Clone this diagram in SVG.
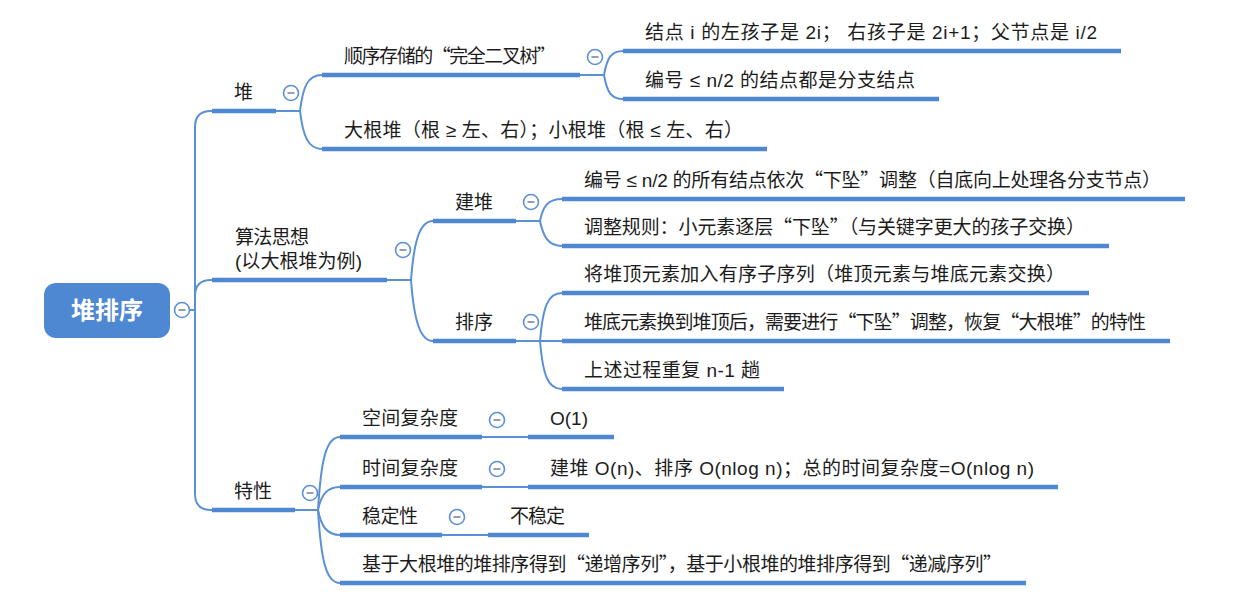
<svg xmlns="http://www.w3.org/2000/svg" width="1234" height="596" viewBox="0 0 1234 596">
<style>
  .t { font-family: "Liberation Sans", "Noto Sans CJK SC", sans-serif; font-size: 19px; fill: #1c1c1c; }
  .q { font-family: "Noto Sans CJK SC", sans-serif; }
  .root { font-family: "Noto Sans CJK SC", "Liberation Sans", sans-serif; font-size: 24px; font-weight: bold; fill: #ffffff; }
  .ul { stroke: #4f88d2; stroke-width: 4.5; fill: none; stroke-linecap: butt; }
  .cn { stroke: #5a90d6; stroke-width: 2; fill: none; }
  .btn circle { fill: #ffffff; stroke: #5a90d6; stroke-width: 1.6; }
  .btn line { stroke: #8a93ad; stroke-width: 1.8; }
</style>
<defs>
  <g id="minus" class="btn"><circle cx="0" cy="0" r="7.5"/><line x1="-3.5" y1="0" x2="3.5" y2="0"/></g>
</defs>
<rect width="1234" height="596" fill="#ffffff"/>

<g id="connectors">
  <path class="cn" d="M189.5,310 H195"/>
  <path class="cn" d="M195,310 V127 Q195,111 211,111 H212"/>
  <path class="cn" d="M195,310 V296 Q195,280 211,280 H212"/>
  <path class="cn" d="M195,310 V494 Q195,510 211,510 H212"/>
  <path class="cn" d="M276,111 H300"/>
  <path class="cn" d="M300,111 C303,86 308,75 322,75"/>
  <path class="cn" d="M300,111 C303,136 308,149 322,149"/>
  <path class="cn" d="M580,75 H604"/>
  <path class="cn" d="M604,75 C607,58 611,51 623,51"/>
  <path class="cn" d="M604,75 C607,92 611,99 623,99"/>
  <path class="cn" d="M387,280 H411"/>
  <path class="cn" d="M411,280 C414,240 420,221 433,221"/>
  <path class="cn" d="M411,280 C414,320 420,341 433,341"/>
  <path class="cn" d="M516,221 H540"/>
  <path class="cn" d="M540,221 C543,206 548,199 562,199"/>
  <path class="cn" d="M540,221 C543,236 548,246 562,246"/>
  <path class="cn" d="M516,341 H562"/>
  <path class="cn" d="M540,341 C543,306 548,293 562,293"/>
  <path class="cn" d="M540,341 C543,376 548,389 562,389"/>
  <path class="cn" d="M295,510 H318"/>
  <path class="cn" d="M318,510 C321,460 326,437 340,437"/>
  <path class="cn" d="M318,510 C321,495 327,487 340,487"/>
  <path class="cn" d="M318,510 C321,526 327,535 340,535"/>
  <path class="cn" d="M318,510 C321,560 326,583 340,583"/>
  <path class="cn" d="M482,437 H528"/>
  <path class="cn" d="M482,487 H528"/>
  <path class="cn" d="M442,535 H488"/>
</g>

<g id="root">
  <rect x="44" y="283" width="126" height="55" rx="12" fill="#4f88d2"/>
  <text class="root" x="107" y="319" text-anchor="middle">堆排序</text>
  <use href="#minus" x="182" y="310"/>
</g>

<g id="n-dui">
  <line class="ul" x1="212" y1="111" x2="276" y2="111"/>
  <text class="t" x="234" y="99">堆</text>
  <use href="#minus" x="291" y="93"/>
</g>
<g id="n-shunxu">
  <line class="ul" x1="322" y1="75" x2="580" y2="75"/>
  <text class="t" x="344" y="63" textLength="212" lengthAdjust="spacing">顺序存储的<tspan class="q">“</tspan>完全二叉树<tspan class="q">”</tspan></text>
  <use href="#minus" x="595" y="57"/>
</g>
<g id="n-jiedian">
  <line class="ul" x1="623" y1="51" x2="1121" y2="51"/>
  <text class="t" x="645" y="39" textLength="452" lengthAdjust="spacing">结点 i 的左孩子是 2i； 右孩子是 2i+1；父节点是 i/2</text>
</g>
<g id="n-bianhao1">
  <line class="ul" x1="623" y1="99" x2="939" y2="99"/>
  <text class="t" x="645" y="87" textLength="270" lengthAdjust="spacing">编号 ≤ n/2 的结点都是分支结点</text>
</g>
<g id="n-dagen">
  <line class="ul" x1="322" y1="149" x2="767" y2="149"/>
  <text class="t" x="344" y="137" textLength="399" lengthAdjust="spacing">大根堆（根 ≥ 左、右）；小根堆（根 ≤ 左、右）</text>
</g>

<g id="n-suanfa">
  <line class="ul" x1="212" y1="280" x2="387" y2="280"/>
  <text class="t" x="235" y="244" textLength="74" lengthAdjust="spacing">算法思想</text>
  <text class="t" x="235" y="268" textLength="127" lengthAdjust="spacing">(以大根堆为例)</text>
  <use href="#minus" x="403" y="250"/>
</g>
<g id="n-jiandui">
  <line class="ul" x1="433" y1="221" x2="516" y2="221"/>
  <text class="t" x="455" y="209">建堆</text>
  <use href="#minus" x="531" y="202"/>
</g>
<g id="n-bianhao2">
  <line class="ul" x1="562" y1="199" x2="1185" y2="199"/>
  <text class="t" x="584" y="187" textLength="577" lengthAdjust="spacing">编号 ≤ n/2 的所有结点依次<tspan class="q">“</tspan>下坠<tspan class="q">”</tspan>调整（自底向上处理各分支节点）</text>
</g>
<g id="n-tiaozheng">
  <line class="ul" x1="562" y1="246" x2="1109" y2="246"/>
  <text class="t" x="584" y="234" textLength="501" lengthAdjust="spacing">调整规则：小元素逐层<tspan class="q">“</tspan>下坠<tspan class="q">”</tspan>（与关键字更大的孩子交换）</text>
</g>
<g id="n-paixu">
  <line class="ul" x1="433" y1="341" x2="516" y2="341"/>
  <text class="t" x="455" y="329">排序</text>
  <use href="#minus" x="531" y="322"/>
</g>
<g id="n-jiang">
  <line class="ul" x1="562" y1="293" x2="1089" y2="293"/>
  <text class="t" x="584" y="281" textLength="481" lengthAdjust="spacing">将堆顶元素加入有序子序列（堆顶元素与堆底元素交换）</text>
</g>
<g id="n-duidi">
  <line class="ul" x1="562" y1="341" x2="1170" y2="341"/>
  <text class="t" x="584" y="329" textLength="562" lengthAdjust="spacing">堆底元素换到堆顶后，需要进行<tspan class="q">“</tspan>下坠<tspan class="q">”</tspan>调整，恢复<tspan class="q">“</tspan>大根堆<tspan class="q">”</tspan>的特性</text>
</g>
<g id="n-shangshu">
  <line class="ul" x1="562" y1="389" x2="784" y2="389"/>
  <text class="t" x="584" y="377" textLength="176" lengthAdjust="spacing">上述过程重复 n-1 趟</text>
</g>

<g id="n-texing">
  <line class="ul" x1="212" y1="510" x2="295" y2="510"/>
  <text class="t" x="234" y="498">特性</text>
  <use href="#minus" x="310" y="493"/>
</g>
<g id="n-kongjian">
  <line class="ul" x1="340" y1="437" x2="482" y2="437"/>
  <text class="t" x="362" y="425" textLength="96" lengthAdjust="spacing">空间复杂度</text>
  <use href="#minus" x="497" y="420"/>
</g>
<g id="n-o1">
  <line class="ul" x1="528" y1="437" x2="614" y2="437"/>
  <text class="t" x="550" y="425">O(1)</text>
</g>
<g id="n-shijian">
  <line class="ul" x1="340" y1="487" x2="482" y2="487"/>
  <text class="t" x="362" y="475" textLength="96" lengthAdjust="spacing">时间复杂度</text>
  <use href="#minus" x="497" y="469"/>
</g>
<g id="n-onlogn">
  <line class="ul" x1="528" y1="487" x2="1058" y2="487"/>
  <text class="t" x="550" y="475" textLength="484" lengthAdjust="spacing">建堆 O(n)、排序 O(nlog n)；总的时间复杂度=O(nlog n)</text>
</g>
<g id="n-wending">
  <line class="ul" x1="340" y1="535" x2="442" y2="535"/>
  <text class="t" x="362" y="523" textLength="56" lengthAdjust="spacing">稳定性</text>
  <use href="#minus" x="457" y="517"/>
</g>
<g id="n-buwending">
  <line class="ul" x1="488" y1="535" x2="589" y2="535"/>
  <text class="t" x="510" y="523" textLength="55" lengthAdjust="spacing">不稳定</text>
</g>
<g id="n-jiyu">
  <line class="ul" x1="340" y1="583" x2="1026" y2="583"/>
  <text class="t" x="362" y="571" textLength="640" lengthAdjust="spacing">基于大根堆的堆排序得到<tspan class="q">“</tspan>递增序列<tspan class="q">”</tspan>，基于小根堆的堆排序得到<tspan class="q">“</tspan>递减序列<tspan class="q">”</tspan></text>
</g>
</svg>
